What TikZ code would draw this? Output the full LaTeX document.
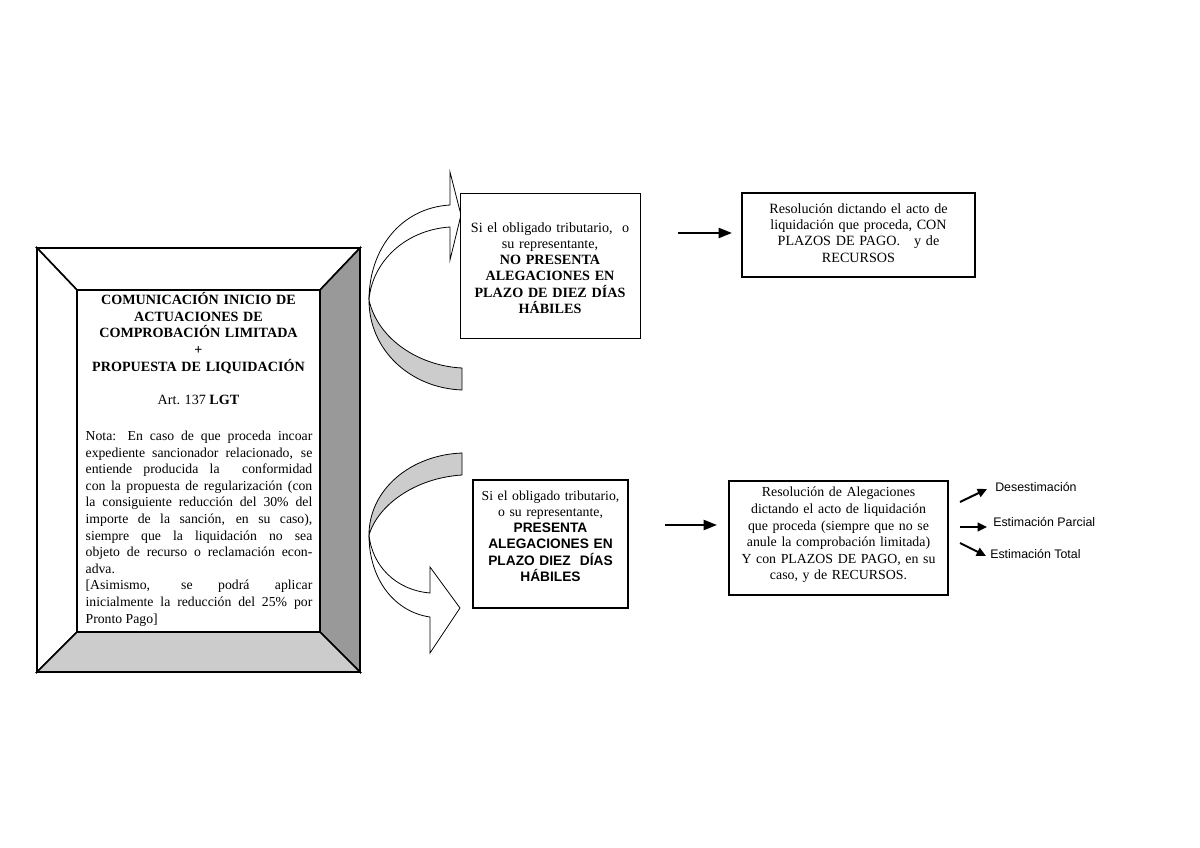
\documentclass[tikz,border=0pt]{standalone}
\usepackage{fontspec}
\setmainfont{Liberation Serif}
\setsansfont{Liberation Sans}
\usetikzlibrary{arrows.meta}
\begin{document}
\begin{tikzpicture}[x=0.75pt,y=-0.75pt,
  frame/.style={draw, line width=1pt, fill=white, inner sep=0pt},
  thinframe/.style={draw, line width=0.6pt, fill=white, inner sep=0pt},
  txt/.style={font=\fontsize{10.6}{12.2}\selectfont, align=center, inner sep=0pt},
  conn/.style={line width=1.5pt, -{Triangle[length=10pt,width=7.5pt]}},
  smallconn/.style={line width=1.5pt, -{Triangle[length=7pt,width=6.5pt]}},
  lbl/.style={font=\sffamily\fontsize{9.3}{11}\selectfont, anchor=west, inner sep=0pt},
  bevel/.style={draw, line width=1.2pt, line join=miter},
  ribbon/.style={draw, line width=0.6pt, line join=miter}
]
\path[fill=white] (0,0) rectangle (1200,848);
\useasboundingbox (0,0) rectangle (1200,848);

% bevelled frame
\path[bevel, fill=white] (37,248) -- (360,248) -- (320,290) -- (77,290) -- cycle;
\path[bevel, fill=white] (37,248) -- (77,290) -- (77,632) -- (37,672) -- cycle;
\path[bevel, fill=black!40] (360,248) -- (360,672) -- (320,632) -- (320,290) -- cycle;
\path[bevel, fill=black!20] (37,672) -- (360,672) -- (320,632) -- (77,632) -- cycle;
\draw[line width=1.2pt] (77,290) rectangle (320,632);

\node[txt, font=\bfseries\fontsize{10.6}{12.5}\selectfont, text width=180pt] (title) at (198.5,333)
  {COMUNICACIÓN INICIO DE\\ ACTUACIONES DE\\ COMPROBACIÓN LIMITADA\\ +\\ PROPUESTA DE LIQUIDACIÓN};
\node[txt] (art) at (198.5,400) {Art. 137 \textbf{LGT}};
\node[txt, align=justify, text width=170pt, font=\fontsize{10.3}{12.45}\selectfont] (nota) at (199,528.5)
  {Nota: En caso de que proceda incoar\linebreak
   expediente sancionador relacionado, se\linebreak
   entiende producida la \ conformidad\linebreak
   con la propuesta de regularización (con\linebreak
   la consiguiente reducción del 30\% del\linebreak
   importe de la sanción, en su caso),\linebreak
   siempre que la liquidación no sea\linebreak
   objeto de recurso o reclamación econ-\linebreak
   adva.\par
   [Asimismo, se podrá aplicar\linebreak
   inicialmente la reducción del 25\% por\linebreak
   Pronto Pago]};

% top curved arrow
\path[ribbon, fill=white] (450,205) .. controls (400,208) and (369,250) .. (369,300)
  .. controls (372,262) and (405,230) .. (450,227) -- (450,260) -- (461,215) -- (450,172) -- cycle;
\path[ribbon, fill=black!20] (369,300) .. controls (369,350) and (410,388) .. (462,390)
  -- (462,368) .. controls (420,366) and (378,340) .. (369,300) -- cycle;

% bottom curved arrow
\path[ribbon, fill=black!20] (462,453) .. controls (410,455) and (369,490) .. (369,535)
  .. controls (378,505) and (415,478) .. (462,475) -- cycle;
\path[ribbon, fill=white] (369,535) .. controls (369,580) and (395,612) .. (430,617)
  -- (430,653) -- (460,608) -- (430,567) -- (430,593)
  .. controls (395,590) and (372,565) .. (369,535) -- cycle;

% top row
\node[thinframe, minimum width=135pt, minimum height=108.75pt] (tb1) at (550,265.5) {};
\node[txt, text width=130pt] (tt1) at (550,268)
  {Si el obligado tributario,~ o\\ su representante,\\ \textbf{NO PRESENTA\\ ALEGACIONES EN\\ PLAZO DE DIEZ DÍAS\\ HÁBILES}};
\node[frame, minimum width=174.75pt, minimum height=63pt] (tb2) at (858.5,235) {};
\node[txt, text width=170pt] (tt2) at (858.5,233)
  {Resolución dictando el acto de\\ liquidación que proceda, CON\\ PLAZOS DE PAGO.~~ y de\\ RECURSOS};
\coordinate (a1s) at (678,233);
\coordinate (a1e) at (732,233);
\draw[conn] (a1s) -- (a1e);

% bottom row
\node[frame, minimum width=116.25pt, minimum height=96pt] (bb1) at (550.5,544) {};
\node[txt, text width=112pt, font=\fontsize{10.3}{12.2}\selectfont] (bt1) at (550.5,536)
  {Si el obligado tributario,\\ o su representante,\\ \textsf{\textbf{PRESENTA\\ ALEGACIONES EN\\ PLAZO DIEZ~ DÍAS\\ HÁBILES}}};
\node[frame, minimum width=164.25pt, minimum height=85.5pt] (bb2) at (838.5,538) {};
\node[txt, text width=160pt, font=\fontsize{10.4}{12.4}\selectfont] (bt2) at (838.5,535)
  {Resolución de Alegaciones\\ dictando el acto de liquidación\\ que proceda (siempre que no se\\ anule la comprobación limitada)\\ Y con PLAZOS DE PAGO, en su\\ caso, y de RECURSOS.};
\coordinate (a2s) at (665,525);
\coordinate (a2e) at (717,525);
\draw[conn] (a2s) -- (a2e);

% outcomes
\coordinate (s1s) at (960,502); \coordinate (s1e) at (987,489);
\coordinate (s2s) at (960,527); \coordinate (s2e) at (987,527);
\coordinate (s3s) at (960,543); \coordinate (s3e) at (986,556);
\draw[smallconn] (s1s) -- (s1e);
\draw[smallconn] (s2s) -- (s2e);
\draw[smallconn] (s3s) -- (s3e);
\node[lbl] (o1) at (995,487) {Desestimación};
\node[lbl] (o2) at (993,522) {Estimación Parcial};
\node[lbl] (o3) at (990,554) {Estimación Total};
\end{tikzpicture}
\end{document}
